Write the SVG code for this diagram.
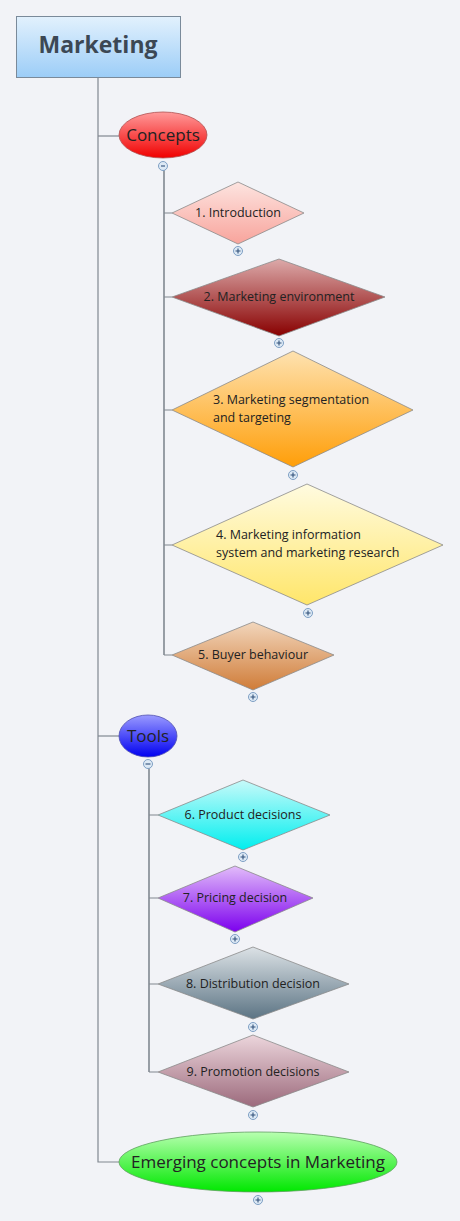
<svg xmlns="http://www.w3.org/2000/svg" width="460" height="1221" viewBox="0 0 460 1221">
<style>
.t{font-family:"Open Sans","Noto Sans","DejaVu Sans",sans-serif;fill:#222;}
.d{font-size:12.5px;}
.c{stroke:#808890;stroke-width:1.2;fill:none;}
.cv{stroke:#808890;stroke-width:1.6;fill:none;}
.sh{stroke:#8a8a8a;stroke-width:0.8;}
.btn circle{fill:#dde9f5;stroke:#7e9fc4;stroke-width:1;}
.btn path{stroke:#30507a;stroke-width:1.1;fill:none;}
</style>
<defs>
<linearGradient id="gRoot" x1="0" y1="0" x2="0" y2="1"><stop offset="0" stop-color="#e2f1fd"/><stop offset="1" stop-color="#9ccdf7"/></linearGradient>
<linearGradient id="gRed" x1="0" y1="0" x2="0" y2="1"><stop offset="0" stop-color="#ff9a9a"/><stop offset="1" stop-color="#f00000"/></linearGradient>
<linearGradient id="gBlue" x1="0" y1="0" x2="0" y2="1"><stop offset="0" stop-color="#9a9aff"/><stop offset="1" stop-color="#0000f0"/></linearGradient>
<linearGradient id="gGreen" x1="0" y1="0" x2="0" y2="1"><stop offset="0" stop-color="#b8ffb0"/><stop offset="1" stop-color="#00e800"/></linearGradient>
<linearGradient id="g1" x1="0" y1="0" x2="0" y2="1"><stop offset="0" stop-color="#fde4e0"/><stop offset="1" stop-color="#f8a49c"/></linearGradient>
<linearGradient id="g2" x1="0" y1="0" x2="0" y2="1"><stop offset="0" stop-color="#dcaaaa"/><stop offset="1" stop-color="#880000"/></linearGradient>
<linearGradient id="g3" x1="0" y1="0" x2="0" y2="1"><stop offset="0" stop-color="#fee2b0"/><stop offset="1" stop-color="#ff9e08"/></linearGradient>
<linearGradient id="g4" x1="0" y1="0" x2="0" y2="1"><stop offset="0" stop-color="#fffbe0"/><stop offset="1" stop-color="#ffe66a"/></linearGradient>
<linearGradient id="g5" x1="0" y1="0" x2="0" y2="1"><stop offset="0" stop-color="#f2d6bc"/><stop offset="1" stop-color="#d07c38"/></linearGradient>
<linearGradient id="g6" x1="0" y1="0" x2="0" y2="1"><stop offset="0" stop-color="#c8fafa"/><stop offset="1" stop-color="#00eeee"/></linearGradient>
<linearGradient id="g7" x1="0" y1="0" x2="0" y2="1"><stop offset="0" stop-color="#e2bcfa"/><stop offset="1" stop-color="#7c00ee"/></linearGradient>
<linearGradient id="g8" x1="0" y1="0" x2="0" y2="1"><stop offset="0" stop-color="#dce2e6"/><stop offset="1" stop-color="#5c7484"/></linearGradient>
<linearGradient id="g9" x1="0" y1="0" x2="0" y2="1"><stop offset="0" stop-color="#ecd6dc"/><stop offset="1" stop-color="#9c6a7c"/></linearGradient>
</defs>
<rect width="460" height="1221" fill="#f2f3f7"/>

<g id="connectors">
<path class="c" d="M98 78 V1162 H119"/>
<path class="c" d="M98 136 H119"/>
<path class="c" d="M98 736 H119"/>
<path class="cv" d="M164 170 V655"/>
<path class="c" d="M164 213 H172 M164 297 H172 M164 410 H172 M164 545 H172 M164 655 H172"/>
<path class="cv" d="M149 768 V1072"/>
<path class="c" d="M149 815 H158 M149 898 H158 M149 984 H158 M149 1072 H158"/>
</g>

<g id="root">
<rect x="16.5" y="16.5" width="164" height="61" fill="url(#gRoot)" stroke="#7a8a9a" stroke-width="1"/>
<text class="t" x="98" y="53" text-anchor="middle" font-size="23" font-weight="bold" style="fill:#3c4854">Marketing</text>
</g>

<g id="concepts">
<ellipse cx="163" cy="135" rx="44" ry="23" fill="url(#gRed)" stroke="#b05050" stroke-width="0.8"/>
<text class="t" x="163" y="141" text-anchor="middle" font-size="17">Concepts</text>
<g class="btn"><circle cx="163" cy="166" r="4.5"/><path d="M161 166 H165"/></g>
</g>

<g id="n1">
<polygon class="sh" points="172,213 238,182 304,213 238,244" fill="url(#g1)"/>
<text class="t d" x="238" y="217" text-anchor="middle">1. Introduction</text>
<g class="btn"><circle cx="238" cy="251" r="4.5"/><path d="M235.5 251 H240.5 M238 248.5 V253.5"/></g>
</g>

<g id="n2">
<polygon class="sh" points="172,297 279,259 385,297 279,336" fill="url(#g2)"/>
<text class="t d" x="279" y="301" text-anchor="middle">2. Marketing environment</text>
<g class="btn"><circle cx="279" cy="343" r="4.5"/><path d="M276.5 343 H281.5 M279 340.5 V345.5"/></g>
</g>

<g id="n3">
<polygon class="sh" points="172,410 293,351 413,410 293,467" fill="url(#g3)"/>
<text class="t d" x="213" y="404">3. Marketing segmentation</text>
<text class="t d" x="213" y="422">and targeting</text>
<g class="btn"><circle cx="293" cy="475" r="4.5"/><path d="M290.5 475 H295.5 M293 472.5 V477.5"/></g>
</g>

<g id="n4">
<polygon class="sh" points="172,545 307,484 443,545 307,605" fill="url(#g4)"/>
<text class="t d" x="216" y="539">4. Marketing information</text>
<text class="t d" x="216" y="557">system and marketing research</text>
<g class="btn"><circle cx="308" cy="613" r="4.5"/><path d="M305.5 613 H310.5 M308 610.5 V615.5"/></g>
</g>

<g id="n5">
<polygon class="sh" points="172,655 253,622 334,655 253,690" fill="url(#g5)"/>
<text class="t d" x="253" y="659" text-anchor="middle">5. Buyer behaviour</text>
<g class="btn"><circle cx="253" cy="697" r="4.5"/><path d="M250.5 697 H255.5 M253 694.5 V699.5"/></g>
</g>

<g id="tools">
<ellipse cx="148" cy="736" rx="29" ry="21" fill="url(#gBlue)" stroke="#5050b0" stroke-width="0.8"/>
<text class="t" x="148" y="742" text-anchor="middle" font-size="17">Tools</text>
<g class="btn"><circle cx="148" cy="764" r="4.5"/><path d="M145.5 764 H150.5"/></g>
</g>

<g id="n6">
<polygon class="sh" points="158,815 243,780 330,815 243,850" fill="url(#g6)"/>
<text class="t d" x="243" y="819" text-anchor="middle">6. Product decisions</text>
<g class="btn"><circle cx="243" cy="857" r="4.5"/><path d="M240.5 857 H245.5 M243 854.5 V859.5"/></g>
</g>

<g id="n7">
<polygon class="sh" points="158,898 235,866 313,898 235,932" fill="url(#g7)"/>
<text class="t d" x="235" y="902" text-anchor="middle">7. Pricing decision</text>
<g class="btn"><circle cx="235" cy="939" r="4.5"/><path d="M232.5 939 H237.5 M235 936.5 V941.5"/></g>
</g>

<g id="n8">
<polygon class="sh" points="158,984 253,947 349,984 253,1019" fill="url(#g8)"/>
<text class="t d" x="253" y="988" text-anchor="middle">8. Distribution decision</text>
<g class="btn"><circle cx="253" cy="1027" r="4.5"/><path d="M250.5 1027 H255.5 M253 1024.5 V1029.5"/></g>
</g>

<g id="n9">
<polygon class="sh" points="158,1072 253,1035 349,1072 253,1107" fill="url(#g9)"/>
<text class="t d" x="253" y="1076" text-anchor="middle">9. Promotion decisions</text>
<g class="btn"><circle cx="253" cy="1115" r="4.5"/><path d="M250.5 1115 H255.5 M253 1112.5 V1117.5"/></g>
</g>

<g id="emerging">
<ellipse cx="258" cy="1162" rx="139" ry="30" fill="url(#gGreen)" stroke="#60a060" stroke-width="0.8"/>
<text class="t" x="258" y="1168" text-anchor="middle" font-size="17">Emerging concepts in Marketing</text>
<g class="btn"><circle cx="258" cy="1200" r="4.5"/><path d="M255.5 1200 H260.5 M258 1197.5 V1202.5"/></g>
</g>
</svg>
